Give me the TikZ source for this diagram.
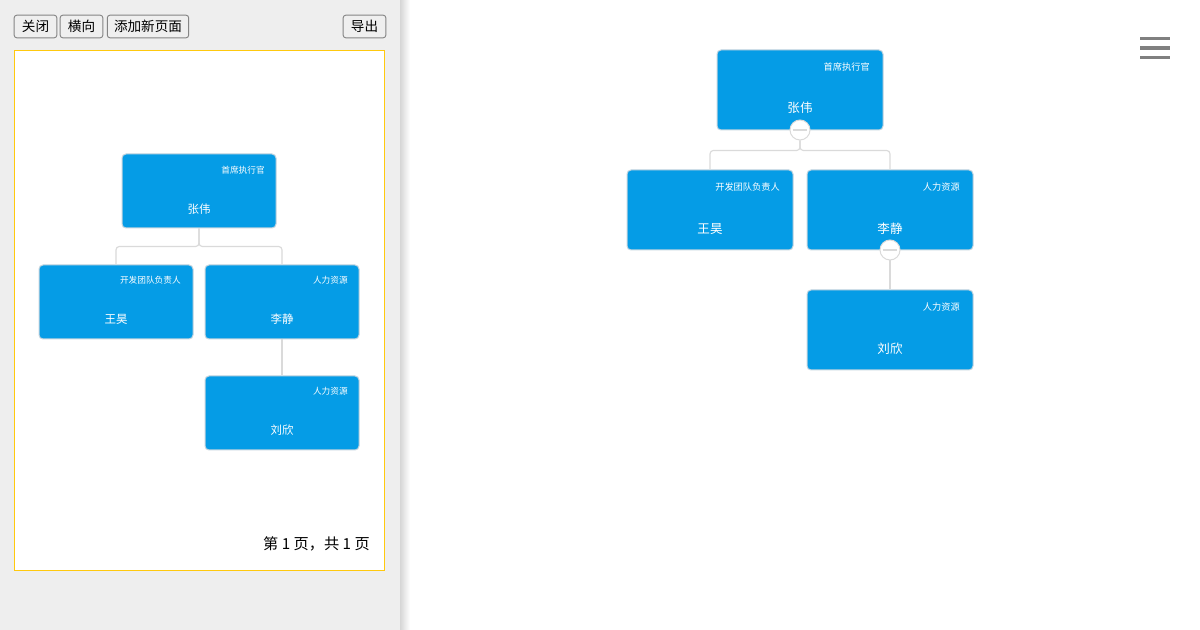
\documentclass[tikz,border=0pt]{standalone}
\usepackage{fontspec}
\setmainfont{Noto Sans CJK SC}
\definecolor{panelgray}{HTML}{EEEEEE}
\definecolor{framegold}{HTML}{FFC90E}
\definecolor{boxblue}{HTML}{059CE6}
\definecolor{boxedge}{HTML}{C4D4DE}
\definecolor{linkgray}{HTML}{DADADA}
\definecolor{btnedge}{HTML}{858585}
\definecolor{btnfill}{HTML}{EFEFEF}
\definecolor{menugray}{HTML}{808080}
\tikzset{
  bigbox/.style={draw=boxedge,fill=boxblue,rounded corners=3pt,line width=0.75pt,inner sep=0,minimum width=124.5pt,minimum height=60pt},
  smallbox/.style={bigbox,minimum width=115.5pt,minimum height=55.5pt},
  titletext/.style={text=white,inner sep=0,anchor=east,font=\fontsize{6.9}{9}\selectfont},
  nametext/.style={text=white,inner sep=0,font=\fontsize{9.4}{11}\selectfont},
  smalltitle/.style={titletext,font=\fontsize{6.5}{8}\selectfont},
  smallname/.style={nametext,font=\fontsize{8.6}{10}\selectfont},
  btn/.style={draw=btnedge,fill=btnfill,rounded corners=2pt,line width=0.7pt,inner sep=0,minimum height=17pt,font=\fontsize{10.2}{12}\selectfont},
  link/.style={draw=linkgray,line width=0.85pt,rounded corners=2.5pt},
  toggle/.style={circle,draw=linkgray,fill=white,line width=0.75pt,inner sep=0,minimum size=15pt},
  minusline/.style={draw=linkgray,line width=1pt,shorten <=2.6pt,shorten >=2.6pt},
  menubar/.style={fill=menugray,inner sep=0,minimum width=22.5pt,minimum height=2.4pt}
}
\begin{document}
\begin{tikzpicture}[x=0.75pt,y=-0.75pt]
\useasboundingbox (0,0) rectangle (1200,630);

% side panel
\shade[left color=black!16,right color=white] (400,0) rectangle (410,630);
\fill[panelgray] (0,0) rectangle (400,630);
\node[draw=framegold,fill=white,line width=0.75pt,inner sep=0,minimum width=277.5pt,minimum height=390pt] (page) at (199.5,310.5) {};

\node[btn,minimum width=32pt] (close) at (35.5,26.5) {关闭};
\node[btn,minimum width=32pt] (turn) at (81.5,26.5) {横向};
\node[btn,minimum width=61pt] (addpage) at (148,26.5) {添加新页面};
\node[btn,minimum width=32pt] (export) at (364.5,26.5) {导出};

% small chart
\node[smallbox] (sceo) at (199,191) {};
\node[smallbox] (shao) at (116,302) {};
\node[smallbox] (sjing) at (282,302) {};
\node[smallbox] (sxin) at (282,413) {};

\draw[link] (sceo.south) -- ++(0,18) -| (shao.north);
\draw[link] (sceo.south) -- ++(0,18) -| (sjing.north);
\draw[link] (sjing.south) -- (sxin.north);

\node[smalltitle] (sceot) at (265,170) {首席执行官};
\node[smallname] (sceon) at (199,209) {张伟};
\node[smalltitle] (shaot) at (181,280) {开发团队负责人};
\node[smallname] (shaon) at (116,319) {王昊};
\node[smalltitle] (sjingt) at (348,280) {人力资源};
\node[smallname] (sjingn) at (282,319) {李静};
\node[smalltitle] (sxint) at (348,391) {人力资源};
\node[smallname] (sxinn) at (282,430) {刘欣};

\node[inner sep=0,anchor=east,font=\fontsize{11.4}{13}\selectfont] (pageno) at (370,544) {第 1 页，共 1 页};

% big chart
\node[bigbox] (ceo) at (800,90) {};
\node[bigbox] (hao) at (710,210) {};
\node[bigbox] (jing) at (890,210) {};
\node[bigbox] (xin) at (890,330) {};

\node[toggle] (ceotog) at (800,130) {};
\node[toggle] (jingtog) at (890,250) {};
\draw[minusline] (ceotog.west) -- (ceotog.east);
\draw[minusline] (jingtog.west) -- (jingtog.east);

\draw[link] (ceotog.south) -- ++(0,10) -| (hao.north);
\draw[link] (ceotog.south) -- ++(0,10) -| (jing.north);
\draw[link] (jingtog.south) -- (xin.north);

\node[titletext] (ceot) at (870,67) {首席执行官};
\node[nametext] (ceon) at (800,108) {张伟};
\node[titletext] (haot) at (780,187) {开发团队负责人};
\node[nametext] (haon) at (710,229) {王昊};
\node[titletext] (jingt) at (960,187) {人力资源};
\node[nametext] (jingn) at (890,229) {李静};
\node[titletext] (xint) at (960,307) {人力资源};
\node[nametext] (xinn) at (890,349) {刘欣};

% menu icon
\node[menubar] (bar1) at (1155,38.5) {};
\node[menubar] (bar2) at (1155,48) {};
\node[menubar] (bar3) at (1155,57.5) {};

\end{tikzpicture}
\end{document}
